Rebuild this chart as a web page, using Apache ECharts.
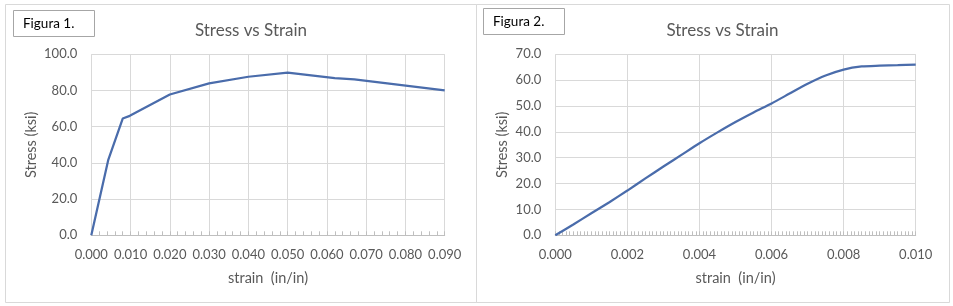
<!DOCTYPE html>
<html>
<head>
<meta charset="utf-8">
<script src="https://cdn.jsdelivr.net/npm/echarts@6/dist/echarts.min.js"></script>
<style>
html,body{margin:0;padding:0;background:#fff;}
#c{width:953px;height:306px;}
</style>
</head>
<body>
<div id="c"></div>
<script>
// Figure 1 data: strain (in/in) vs stress (ksi)
const strain1 = [0, 0.0043, 0.008, 0.0098, 0.02, 0.03, 0.04, 0.05, 0.062, 0.067, 0.09];
const stress1 = [0, 41.5, 64.5, 66.0, 77.8, 83.9, 87.6, 89.9, 86.9, 86.2, 80.1];
// Figure 2 data
const strain2 = [0, 0.0005, 0.001, 0.0015, 0.002, 0.0025, 0.003, 0.0035, 0.004, 0.0045, 0.005, 0.0055, 0.006, 0.0065, 0.007, 0.0075, 0.008, 0.0085, 0.009, 0.0095, 0.010];
const stress2 = [0, 4.2, 8.5, 12.8, 17.3, 22.0, 26.6, 31.1, 35.6, 39.8, 43.8, 47.5, 51.0, 54.8, 58.6, 61.8, 64.1, 65.3, 65.6, 65.8, 66.0];

const titleText = 'Stress vs Strain';
const xName = 'strain  (in/in)';
const yName = 'Stress (ksi)';
const figLabels = ['Figura 1.', 'Figura 2.'];

const FONT = 'Lato';
const GRAY = '#595959';
const GRID = '#d9d9d9';
const LINE = '#4a6cab';

function xAxis(idx, max, interval, minorSplit) {
  return {
    type: 'value', gridIndex: idx, min: 0, max: max, interval: interval,
    name: xName, nameLocation: 'middle', nameGap: 36,
    nameTextStyle: {color: GRAY, fontFamily: FONT, fontSize: 14.5},
    axisLine: {show: true, lineStyle: {color: '#bfbfbf', width: 1}},
    axisTick: {show: true, inside: true, length: 4, lineStyle: {color: '#bfbfbf'}},
    minorTick: {show: true, splitNumber: minorSplit, length: 4, lineStyle: {color: '#bfbfbf'}},
    axisLabel: {color: GRAY, fontFamily: FONT, fontSize: 13, margin: 13,
      formatter: v => v.toFixed(3)},
    splitLine: {show: true, lineStyle: {color: GRID, width: 1}}
  };
}
function yAxis(idx, max, interval, gap) {
  return {
    type: 'value', gridIndex: idx, min: 0, max: max, interval: interval,
    name: yName, nameLocation: 'middle', nameGap: gap,
    nameTextStyle: {color: GRAY, fontFamily: FONT, fontSize: 14.5},
    axisLine: {show: false}, axisTick: {show: false},
    axisLabel: {color: GRAY, fontFamily: FONT, fontSize: 13, margin: 14,
      formatter: v => v.toFixed(1)},
    splitLine: {show: true, lineStyle: {color: GRID, width: 1}}
  };
}

const chart = echarts.init(document.getElementById('c'), null, {renderer: 'canvas'});
chart.setOption({
  animation: false,
  backgroundColor: '#ffffff',
  title: [
    {text: titleText, left: 246, top: 17, textAlign: 'center',
      textStyle: {color: GRAY, fontFamily: FONT, fontSize: 17, fontWeight: 'normal'}},
    {text: titleText, left: 717.5, top: 17, textAlign: 'center',
      textStyle: {color: GRAY, fontFamily: FONT, fontSize: 17, fontWeight: 'normal'}}
  ],
  grid: [
    {left: 91.3, top: 54.3, width: 353.4, height: 181},
    {left: 555.3, top: 54.3, width: 360.4, height: 181}
  ],
  xAxis: [xAxis(0, 0.09, 0.01, 5), xAxis(1, 0.01, 0.002, 20)],
  yAxis: [yAxis(0, 100, 20, 52), yAxis(1, 70, 10, 45)],
  series: [
    {type: 'line', xAxisIndex: 0, yAxisIndex: 0, showSymbol: false, smooth: false,
      lineStyle: {color: LINE, width: 2.25}, itemStyle: {color: LINE},
      data: strain1.map((x, i) => [x, stress1[i]])},
    {type: 'line', xAxisIndex: 1, yAxisIndex: 1, showSymbol: false, smooth: 0.25,
      lineStyle: {color: LINE, width: 2.25}, itemStyle: {color: LINE},
      data: strain2.map((x, i) => [x, stress2[i]])}
  ],
  graphic: [
    {type: 'rect', shape: {x: 5.5, y: 4.5, width: 471, height: 298}, silent: true,
      style: {fill: null, stroke: '#d9d9d9', lineWidth: 1}},
    {type: 'rect', shape: {x: 476.5, y: 4.5, width: 473, height: 298}, silent: true,
      style: {fill: null, stroke: '#d9d9d9', lineWidth: 1}},
    {type: 'rect', shape: {x: 13.5, y: 10.5, width: 81, height: 26}, silent: true,
      style: {fill: '#fff', stroke: '#a6a6a6', lineWidth: 1}},
    {type: 'text', x: 23, y: 24, silent: true,
      style: {text: figLabels[0], fill: '#000', font: '13.5px Lato', verticalAlign: 'middle'}},
    {type: 'rect', shape: {x: 483.5, y: 8.5, width: 81, height: 26}, silent: true,
      style: {fill: '#fff', stroke: '#a6a6a6', lineWidth: 1}},
    {type: 'text', x: 493, y: 22, silent: true,
      style: {text: figLabels[1], fill: '#000', font: '13.5px Lato', verticalAlign: 'middle'}}
  ]
});
</script>
</body>
</html>
